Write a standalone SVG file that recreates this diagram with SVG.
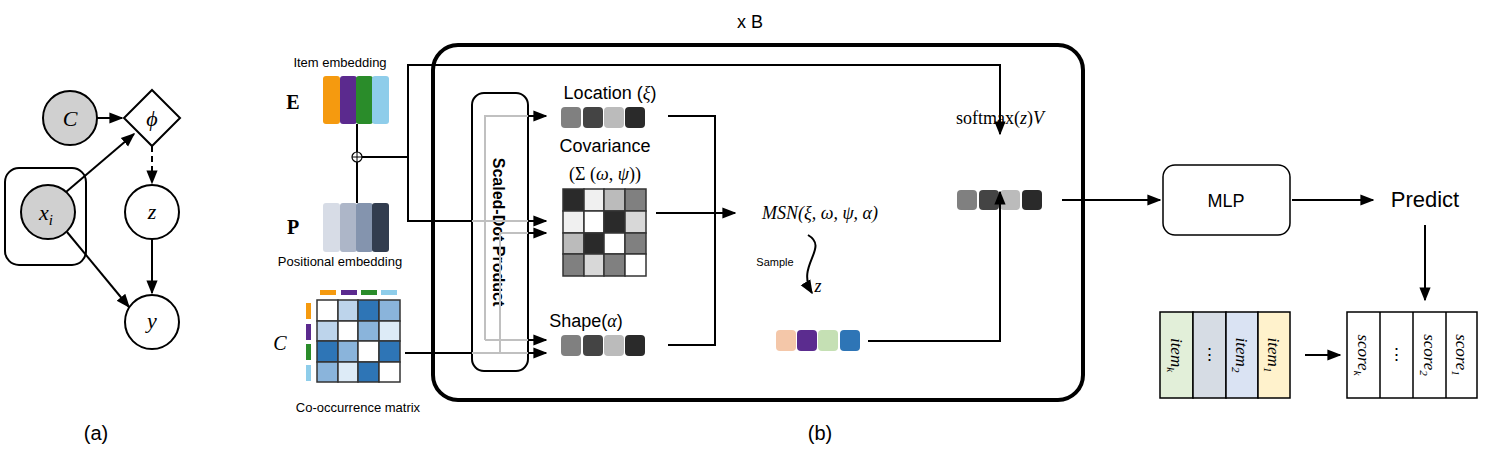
<svg xmlns="http://www.w3.org/2000/svg" width="1496" height="464" viewBox="0 0 1496 464">
<defs>
<marker id="ah" viewBox="0 0 10 10" refX="9" refY="5" markerWidth="7" markerHeight="7" orient="auto"><path d="M0,1 L10,5 L0,9 z" fill="#000"/></marker>
<style>
.s{font-family:"Liberation Sans",Arial,sans-serif;fill:#000}
.m{font-family:"Liberation Serif","DejaVu Serif",serif;font-style:italic;fill:#000}
.l{fill:none;stroke:#000;stroke-width:2}
.g{fill:none;stroke:#c0c0c0;stroke-width:2}
.n{stroke:#000;stroke-width:2}
.c{stroke:#333;stroke-width:1.5}
</style>
</defs>
<!-- (a) -->
<g id="a-C"><circle cx="70" cy="118" r="27" fill="#d0d0d0" class="n"/><text x="70" y="126" class="m" font-size="22" text-anchor="middle">C</text></g>
<g id="a-phi"><polygon points="152,90 180,118 152,146 124,118" fill="#fff" class="n"/><text x="152" y="126" class="m" font-size="22" text-anchor="middle">ϕ</text></g>
<g id="a-plate"><rect x="5" y="168" width="81" height="97" rx="14" fill="none" class="n"/></g>
<g id="a-x"><circle cx="48" cy="212" r="27" fill="#d0d0d0" class="n"/><text x="46" y="220" class="m" font-size="22" text-anchor="middle">x<tspan font-size="15" dy="5">i</tspan></text></g>
<g id="a-z"><circle cx="152" cy="212" r="27" fill="#fff" class="n"/><text x="152" y="219" class="m" font-size="22" text-anchor="middle">z</text></g>
<g id="a-y"><circle cx="152" cy="322" r="27" fill="#fff" class="n"/><text x="152" y="328" class="m" font-size="22" text-anchor="middle">y</text></g>
<text x="96" y="440" class="s" font-size="20" text-anchor="middle">(a)</text>
<!-- (b) -->
<text x="750" y="28" class="s" font-size="18" text-anchor="middle">x B</text>
<g id="block"><rect x="433" y="45" width="650" height="355" rx="25" fill="none" stroke="#000" stroke-width="4"/></g>
<g id="E"><text x="340" y="67" class="s" font-size="13" text-anchor="middle">Item embedding</text>
<text x="293" y="109" font-family="Liberation Serif,serif" font-weight="bold" font-size="20" text-anchor="middle">E</text>
<rect x="323" y="76" width="17" height="48" rx="3" fill="#F59A0F"/><rect x="340" y="76" width="17" height="48" rx="3" fill="#5B2A8E"/><rect x="356" y="76" width="17" height="48" rx="3" fill="#2A8C2A"/><rect x="372" y="76" width="17" height="48" rx="3" fill="#8ECDEA"/></g>
<g id="P"><text x="293" y="234" font-family="Liberation Serif,serif" font-weight="bold" font-size="20" text-anchor="middle">P</text>
<rect x="323" y="203" width="17" height="49" rx="3" fill="#D7DCE6"/><rect x="340" y="203" width="17" height="49" rx="3" fill="#ADB6C8"/><rect x="356" y="203" width="17" height="49" rx="3" fill="#8494AE"/><rect x="372" y="203" width="17" height="49" rx="3" fill="#323D4F"/>
<text x="340" y="266" class="s" font-size="13" text-anchor="middle">Positional embedding</text></g>
<g id="Cmat">
<text x="280" y="350" class="m" font-size="20" text-anchor="middle">C</text>
<rect x="320" y="290" width="16" height="5" fill="#F59A0F"/><rect x="341" y="290" width="16" height="5" fill="#5B2A8E"/><rect x="361" y="290" width="16" height="5" fill="#2A8C2A"/><rect x="381" y="290" width="16" height="5" fill="#8ECDEA"/>
<rect x="306" y="303" width="5" height="16" fill="#F59A0F"/><rect x="306" y="324" width="5" height="16" fill="#5B2A8E"/><rect x="306" y="344" width="5" height="16" fill="#2A8C2A"/><rect x="306" y="365" width="5" height="16" fill="#8ECDEA"/>
<g class="c">
<rect x="317" y="300" width="21" height="21" fill="#fff"/><rect x="338" y="300" width="20" height="21" fill="#BDD4EB"/><rect x="358" y="300" width="21" height="21" fill="#2E75B6"/><rect x="379" y="300" width="21" height="21" fill="#8AB4DB"/>
<rect x="317" y="321" width="21" height="20" fill="#BDD4EB"/><rect x="338" y="321" width="20" height="20" fill="#fff"/><rect x="358" y="321" width="21" height="20" fill="#8AB4DB"/><rect x="379" y="321" width="21" height="20" fill="#DDEBF7"/>
<rect x="317" y="341" width="21" height="21" fill="#2E75B6"/><rect x="338" y="341" width="20" height="21" fill="#8AB4DB"/><rect x="358" y="341" width="21" height="21" fill="#fff"/><rect x="379" y="341" width="21" height="21" fill="#2E75B6"/>
<rect x="317" y="362" width="21" height="20" fill="#8AB4DB"/><rect x="338" y="362" width="20" height="20" fill="#DDEBF7"/><rect x="358" y="362" width="21" height="20" fill="#2E75B6"/><rect x="379" y="362" width="21" height="20" fill="#fff"/>
</g>
<text x="358" y="412" class="s" font-size="13" text-anchor="middle">Co-occurrence matrix</text></g>
<g id="sdp"><rect x="472" y="93" width="56" height="278" rx="12" fill="#fff" stroke="#000" stroke-width="2"/>
<text transform="translate(493,232) rotate(90)" class="s" font-size="16" font-weight="bold" text-anchor="middle">Scaled-Dot Product</text></g>
<g id="loc"><text x="610" y="99" class="s" font-size="18" text-anchor="middle">Location (<tspan class="m">ξ</tspan>)</text>
<rect x="561" y="107" width="20" height="21" rx="4" fill="#808080"/><rect x="583" y="107" width="20" height="21" rx="4" fill="#444"/><rect x="604" y="107" width="20" height="21" rx="4" fill="#bbb"/><rect x="625" y="107" width="20" height="21" rx="4" fill="#2a2a2a"/></g>
<g id="cov"><text x="605" y="152" class="s" font-size="18" text-anchor="middle">Covariance</text>
<text x="605" y="180" font-family="Liberation Serif,serif" font-size="18" text-anchor="middle">(Σ (<tspan font-style="italic">ω</tspan>, <tspan font-style="italic">ψ</tspan>))</text>
<g class="c">
<rect x="563" y="189" width="21" height="22" fill="#2a2a2a"/><rect x="584" y="189" width="20" height="22" fill="#f0f0f0"/><rect x="604" y="189" width="21" height="22" fill="#bbb"/><rect x="625" y="189" width="21" height="22" fill="#808080"/>
<rect x="563" y="211" width="21" height="22" fill="#f0f0f0"/><rect x="584" y="211" width="20" height="22" fill="#fff"/><rect x="604" y="211" width="21" height="22" fill="#2a2a2a"/><rect x="625" y="211" width="21" height="22" fill="#d8d8d8"/>
<rect x="563" y="233" width="21" height="21" fill="#bbb"/><rect x="584" y="233" width="20" height="21" fill="#2a2a2a"/><rect x="604" y="233" width="21" height="21" fill="#fff"/><rect x="625" y="233" width="21" height="21" fill="#808080"/>
<rect x="563" y="254" width="21" height="22" fill="#808080"/><rect x="584" y="254" width="20" height="22" fill="#d8d8d8"/><rect x="604" y="254" width="21" height="22" fill="#808080"/><rect x="625" y="254" width="21" height="22" fill="#fff"/>
</g></g>
<g id="shape"><text x="586" y="327" class="s" font-size="18" text-anchor="middle">Shape(<tspan class="m">α</tspan>)</text>
<rect x="561" y="335" width="20" height="21" rx="4" fill="#808080"/><rect x="583" y="335" width="20" height="21" rx="4" fill="#444"/><rect x="604" y="335" width="20" height="21" rx="4" fill="#bbb"/><rect x="625" y="335" width="20" height="21" rx="4" fill="#2a2a2a"/></g>
<g id="msn"><text x="820" y="219" class="m" font-size="18" text-anchor="middle">MSN(ξ, ω, ψ, α)</text>
<text x="775" y="266" class="s" font-size="11" text-anchor="middle">Sample</text></g>
<g id="z"><text x="818" y="292" class="m" font-size="18" text-anchor="middle">z</text>
<rect x="776" y="330" width="20" height="21" rx="4" fill="#F4C7A9"/><rect x="797" y="330" width="20" height="21" rx="4" fill="#5B2C8F"/><rect x="818" y="330" width="20" height="21" rx="4" fill="#C5E0B4"/><rect x="840" y="330" width="20" height="21" rx="4" fill="#2E75B6"/></g>
<g id="softmax"><text x="1000" y="124" font-family="Liberation Serif,serif" font-size="18" text-anchor="middle">softmax(<tspan font-style="italic">z</tspan>)<tspan font-style="italic">V</tspan></text>
<rect x="957" y="190" width="20" height="20" rx="4" fill="#808080"/><rect x="979" y="190" width="20" height="20" rx="4" fill="#444"/><rect x="1000" y="190" width="20" height="20" rx="4" fill="#bbb"/><rect x="1022" y="190" width="20" height="20" rx="4" fill="#2a2a2a"/></g>
<g id="mlp"><rect x="1163" y="165" width="127" height="70" rx="12" fill="#fff" stroke="#000" stroke-width="1.5"/><text x="1226" y="207" class="s" font-size="18" text-anchor="middle">MLP</text></g>
<g id="predict"><text x="1425" y="207" class="s" font-size="22" text-anchor="middle">Predict</text></g>
<g id="items" font-family="Liberation Serif,serif" font-style="italic" font-size="17">
<rect x="1160" y="312" width="33" height="86" fill="#E2EFD9" stroke="#000" stroke-width="1.5"/><rect x="1193" y="312" width="33" height="86" fill="#D6DCE4" stroke="#000" stroke-width="1.5"/><rect x="1226" y="312" width="32" height="86" fill="#DAE3F3" stroke="#000" stroke-width="1.5"/><rect x="1258" y="312" width="32" height="86" fill="#FFF2CC" stroke="#000" stroke-width="1.5"/>
<text transform="translate(1171,355) rotate(90)" text-anchor="middle">item<tspan font-size="11" dy="4">k</tspan></text>
<text x="1209" y="360" text-anchor="middle" font-style="normal">⋮</text>
<text transform="translate(1236,355) rotate(90)" text-anchor="middle">item<tspan font-size="11" dy="4">2</tspan></text>
<text transform="translate(1268,355) rotate(90)" text-anchor="middle">item<tspan font-size="11" dy="4">1</tspan></text></g>
<g id="scores" font-family="Liberation Serif,serif" font-style="italic" font-size="17">
<rect x="1347" y="312" width="130" height="86" fill="#fff" stroke="#000" stroke-width="1.5"/>
<line x1="1380" y1="312" x2="1380" y2="398" stroke="#000" stroke-width="1.5"/><line x1="1413" y1="312" x2="1413" y2="398" stroke="#000" stroke-width="1.5"/><line x1="1446" y1="312" x2="1446" y2="398" stroke="#000" stroke-width="1.5"/>
<text transform="translate(1358,355) rotate(90)" text-anchor="middle">score<tspan font-size="11" dy="4">k</tspan></text>
<text x="1396" y="360" text-anchor="middle" font-style="normal">⋮</text>
<text transform="translate(1424,355) rotate(90)" text-anchor="middle">score<tspan font-size="11" dy="4">2</tspan></text>
<text transform="translate(1456,355) rotate(90)" text-anchor="middle">score<tspan font-size="11" dy="4">1</tspan></text></g>
<text x="820" y="440" class="s" font-size="20" text-anchor="middle">(b)</text>
<g id="connectors">
<line x1="97" y1="118" x2="122" y2="118" class="l" marker-end="url(#ah)"/>
<line x1="66" y1="192" x2="134" y2="134" class="l" marker-end="url(#ah)"/>
<line x1="152" y1="146" x2="152" y2="183" class="l" stroke-dasharray="6,4" marker-end="url(#ah)"/>
<line x1="152" y1="239" x2="152" y2="293" class="l" marker-end="url(#ah)"/>
<line x1="67" y1="232" x2="129" y2="307" class="l" marker-end="url(#ah)"/>
<line x1="357" y1="124" x2="357" y2="203" class="l" stroke-width="1.5"/>
<circle cx="357" cy="157" r="5" fill="#fff" stroke="#000" stroke-width="1.2"/><path d="M352,157 H362 M357,152 V162" stroke="#000" stroke-width="1"/>
<polyline points="362,157 408,157 408,65 1000,65 1000,134" class="l" marker-end="url(#ah)"/>
<polyline points="408,157 408,221 472,221" class="l"/>
<line x1="528" y1="221" x2="546" y2="221" class="l" marker-end="url(#ah)"/>
<line x1="472" y1="221" x2="528" y2="221" class="g"/>
<polyline points="485,340 485,116 528,116" class="g"/>
<line x1="528" y1="116" x2="546" y2="116" class="l" marker-end="url(#ah)"/>
<polyline points="500,233 528,233" class="g"/>
<line x1="528" y1="233" x2="546" y2="233" class="l" marker-end="url(#ah)"/>
<polyline points="485,340 528,340" class="g"/>
<line x1="528" y1="340" x2="546" y2="340" class="l" marker-end="url(#ah)"/>
<line x1="500" y1="233" x2="500" y2="353" class="g"/>
<line x1="405" y1="353" x2="472" y2="353" class="l"/><line x1="472" y1="353" x2="528" y2="353" class="g"/>
<line x1="528" y1="353" x2="546" y2="353" class="l" marker-end="url(#ah)"/>
<polyline points="668,116 715,116 715,345 668,345" class="l"/>
<line x1="656" y1="213" x2="735" y2="213" class="l" marker-end="url(#ah)"/>
<path d="M808,235 C830,248 795,265 812,293" class="l" stroke-width="1.5" marker-end="url(#ah)"/>
<polyline points="868,341 1000,341 1000,192" class="l" marker-end="url(#ah)"/>
<line x1="1062" y1="200" x2="1160" y2="200" class="l" marker-end="url(#ah)"/>
<line x1="1292" y1="200" x2="1373" y2="200" class="l" marker-end="url(#ah)"/>
<line x1="1425" y1="225" x2="1425" y2="300" class="l" stroke-width="1.5" marker-end="url(#ah)"/>
<line x1="1305" y1="355" x2="1340" y2="355" class="l" marker-end="url(#ah)"/>
</g>
</svg>
